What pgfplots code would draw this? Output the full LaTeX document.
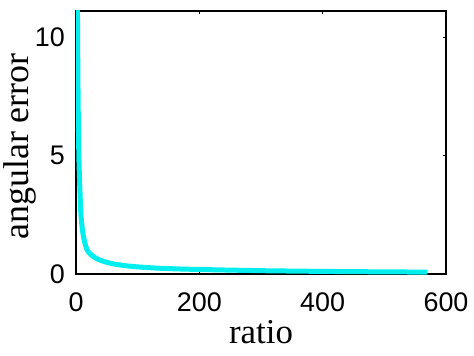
\documentclass[border=0pt]{standalone}
\usepackage{pgfplots}
\pgfplotsset{compat=1.18}
\usepackage{fontspec}
\setmainfont{Liberation Serif}
\newfontfamily\arialf{Liberation Sans}
\definecolor{aqua}{RGB}{0,238,238}
\begin{document}
\begin{tikzpicture}
\path[use as bounding box] (-76bp,-82bp) rectangle (398bp,274bp);
\begin{axis}[
  scale only axis,
  width=370bp, height=263bp,
  anchor=south west, at={(0,0)},
  xmin=0, xmax=600, ymin=0, ymax=11.1,
  xtick={0,200,400,600}, ytick={0,5,10},
  tick align=inside, major tick length=3bp,
  every tick/.style={black, line width=1bp},
  axis line style={black, line width=1.2bp},
  /pgf/number format/assume math mode=true,
  ticklabel style={font=\arialf\fontsize{27}{27}\selectfont},
  yticklabel style={inner sep=0pt, xshift=-11bp},
  xticklabel style={inner sep=0pt, yshift=-19bp},
  xlabel={ratio}, ylabel={angular error},
  every axis x label/.style={at={(axis description cs:0.5,0)}, anchor=base, yshift=-69bp, font=\fontsize{35}{35}\selectfont},
  every axis y label/.style={at={(axis description cs:0,0.485)}, xshift=-47bp, rotate=90, anchor=base, font=\fontsize{36}{36}\selectfont},
]
\addplot[aqua, line width=5bp, smooth, tension=0.4] coordinates {
(1.5,14) (2,12) (2.5,10.5) (3,8.5) (3.5,7.2) (4,6.1) (4.5,5.2) (5,4.6)
(6,3.8) (7,3.1) (8,2.5) (10,1.95) (12,1.6) (15,1.25) (18,1.02) (22,0.88)
(28,0.74) (35,0.63) (45,0.53) (60,0.43) (80,0.35) (100,0.3) (130,0.25)
(170,0.21) (220,0.18) (300,0.14) (400,0.11) (500,0.09) (570,0.08)
};
\end{axis}
\end{tikzpicture}
\end{document}
